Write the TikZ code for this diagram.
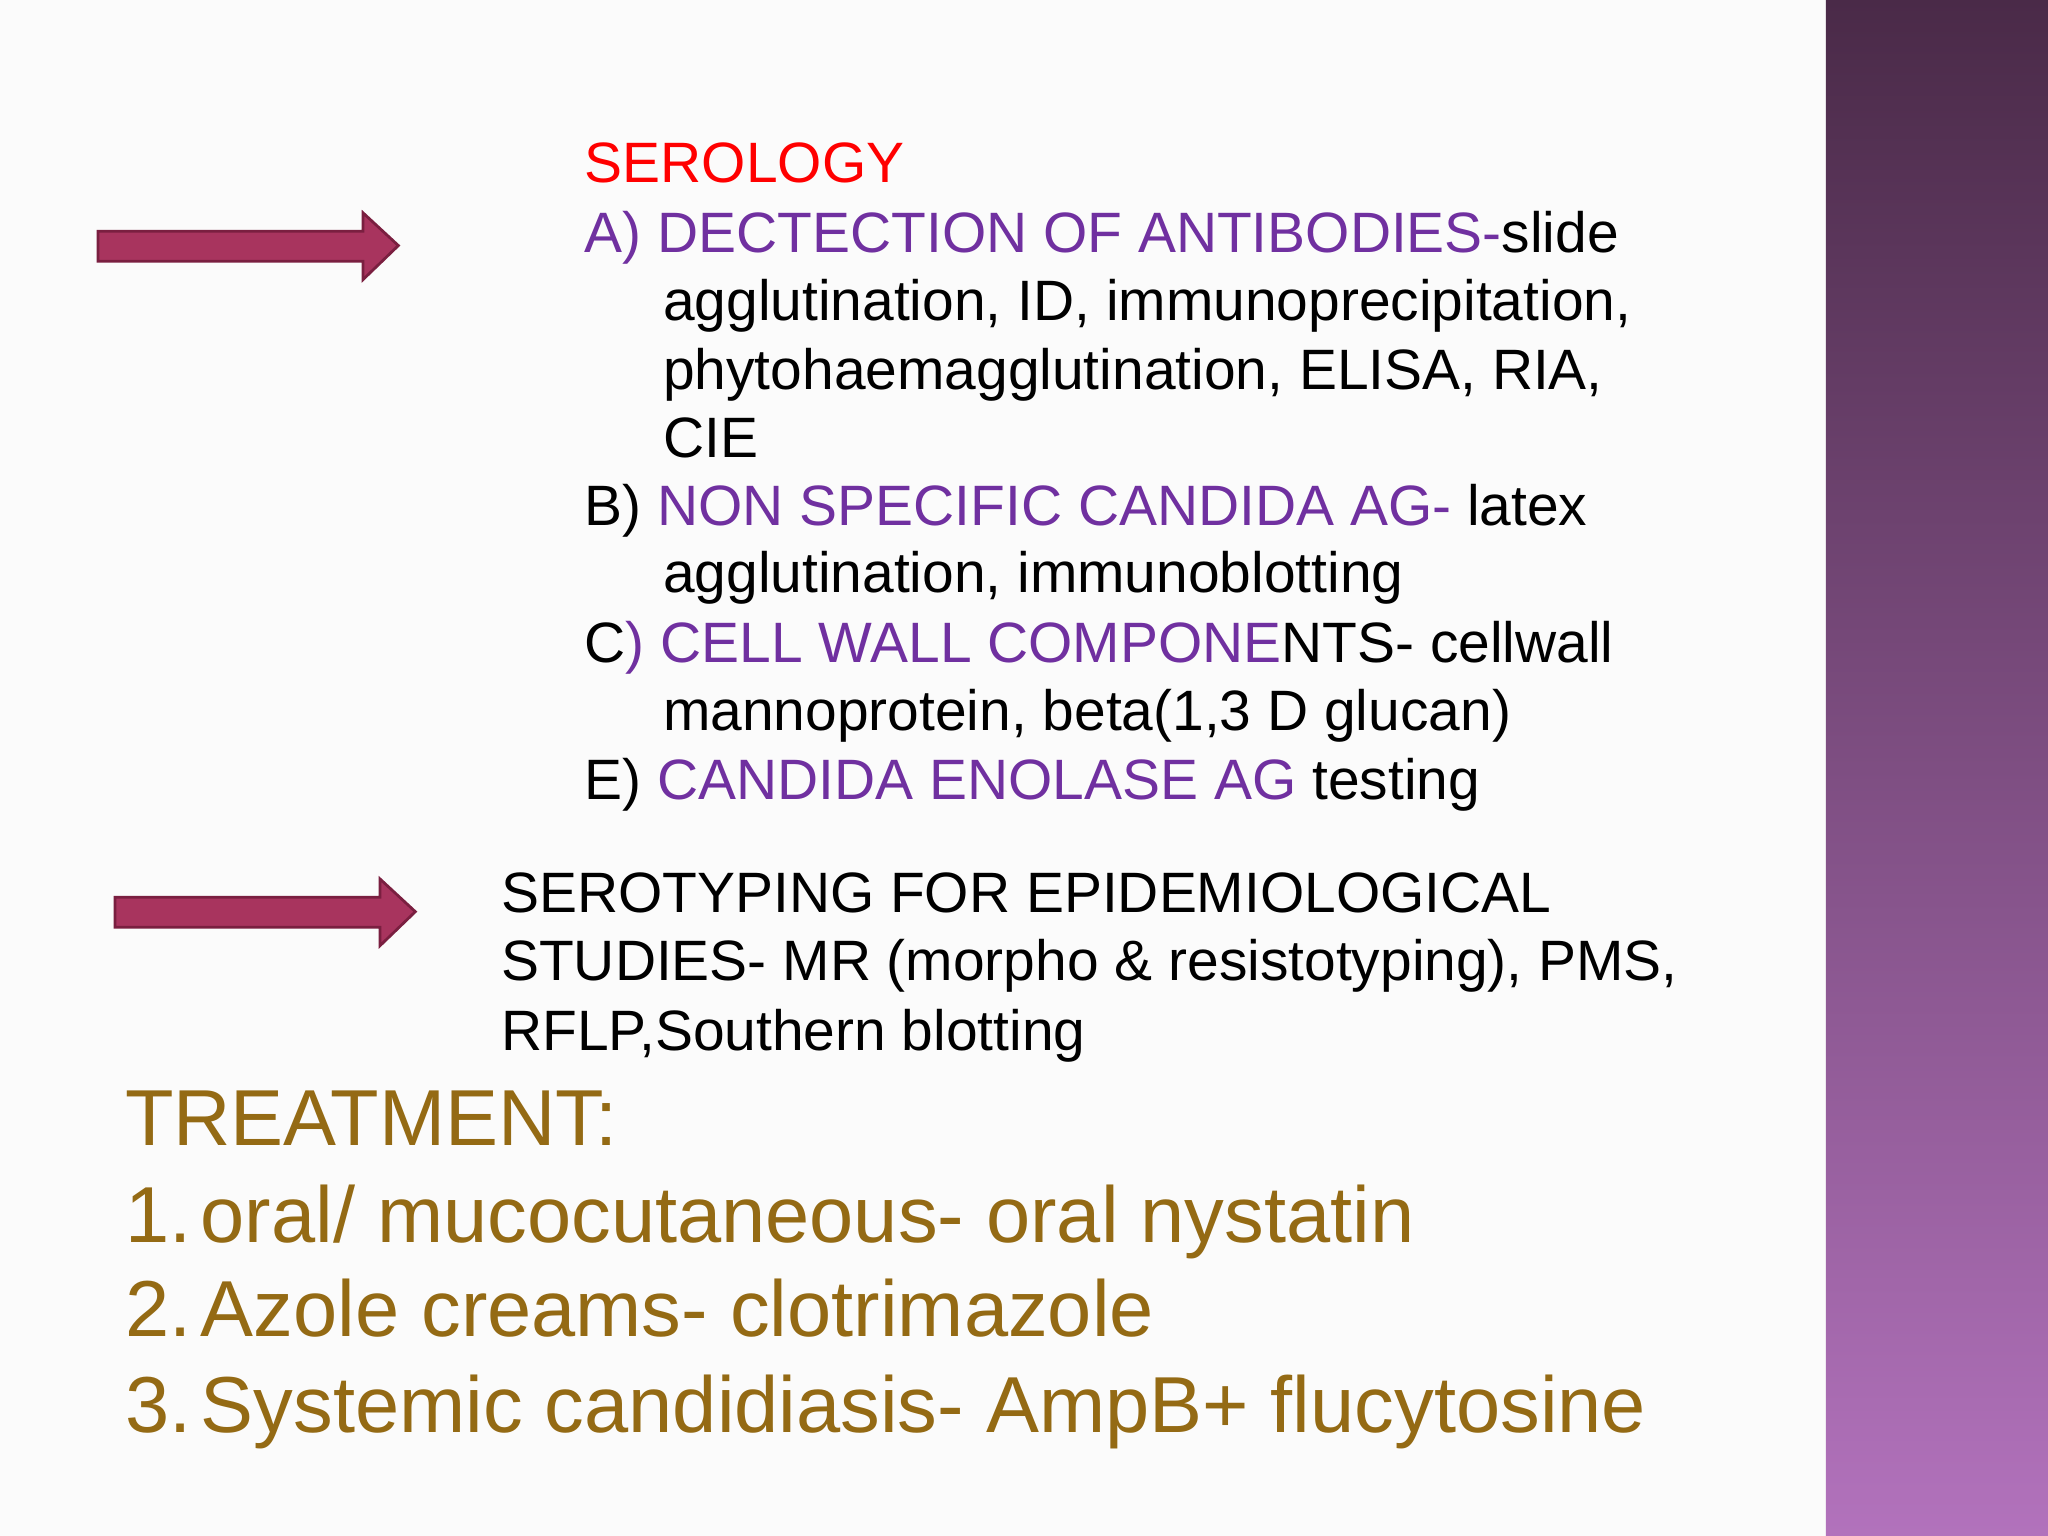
\documentclass[tikz,border=0pt]{standalone}
\usepackage{fontspec}
\setmainfont{Liberation Sans}
\definecolor{pur}{HTML}{7030A0}
\definecolor{brn}{HTML}{946A14}
\definecolor{arr}{HTML}{A8345E}
\definecolor{arrd}{HTML}{7A1F40}
\definecolor{bandtop}{HTML}{4A2A48}
\definecolor{bandbot}{HTML}{B272BC}
\begin{document}
\begin{tikzpicture}[x=0.1mm,y=-0.1mm,
  sl/.style={anchor=base west,inner sep=0,font=\fontsize{12.4}{14}\selectfont},
  tl/.style={anchor=base west,inner sep=0,font=\fontsize{17.3}{20}\selectfont,text=brn},
  arrowshape/.style={fill=arr,draw=arrd,line width=0.6pt}]
\useasboundingbox (0,0) rectangle (1568,1176);
\fill[white!97!gray] (0,0) rectangle (1398,1176);
\shade[top color=bandtop,bottom color=bandbot] (1398,0) rectangle (1568,1176);
\draw[arrowshape] (75,177) -- (278,177) -- (278,163) -- (305,188) -- (278,214) -- (278,200) -- (75,200) -- cycle;
\draw[arrowshape] (88,687) -- (291,687) -- (291,673) -- (318,698) -- (291,724) -- (291,710) -- (88,710) -- cycle;
\node[sl,text=red] (s0) at (447,140) {SEROLOGY};
\node[sl] (s1) at (447,193) {\textcolor{pur}{A) DECTECTION OF ANTIBODIES-}slide};
\node[sl] (s2) at (507,245) {agglutination, ID, immunoprecipitation,};
\node[sl] (s3) at (507,298) {phytohaemagglutination, ELISA, RIA,};
\node[sl] (s4) at (507,350) {CIE};
\node[sl] (s5) at (447,402) {B) \textcolor{pur}{NON SPECIFIC CANDIDA AG-} latex};
\node[sl] (s6) at (507,454) {agglutination, immunoblotting};
\node[sl] (s7) at (447,507) {C\textcolor{pur}{) CELL WALL COMPONE}NTS- cellwall};
\node[sl] (s8) at (507,559) {mannoprotein, beta(1,3 D glucan)};
\node[sl] (s9) at (447,612) {E) \textcolor{pur}{CANDIDA ENOLASE AG} testing};
\node[sl] (r1) at (383,699) {SEROTYPING FOR EPIDEMIOLOGICAL};
\node[sl] (r2) at (383,751) {STUDIES- MR (morpho \& resistotyping), PMS,};
\node[sl] (r3) at (383,804) {RFLP,Southern blotting};
\node[tl] (t0) at (95,877) {TREATMENT:};
\node[tl] (t1n) at (95,951) {1.};
\node[tl] (t1) at (153,951) {oral/ mucocutaneous- oral nystatin};
\node[tl] (t2n) at (95,1023) {2.};
\node[tl] (t2) at (153,1023) {Azole creams- clotrimazole};
\node[tl] (t3n) at (95,1097) {3.};
\node[tl] (t3) at (153,1097) {Systemic candidiasis- AmpB+ flucytosine};
\end{tikzpicture}
\end{document}
